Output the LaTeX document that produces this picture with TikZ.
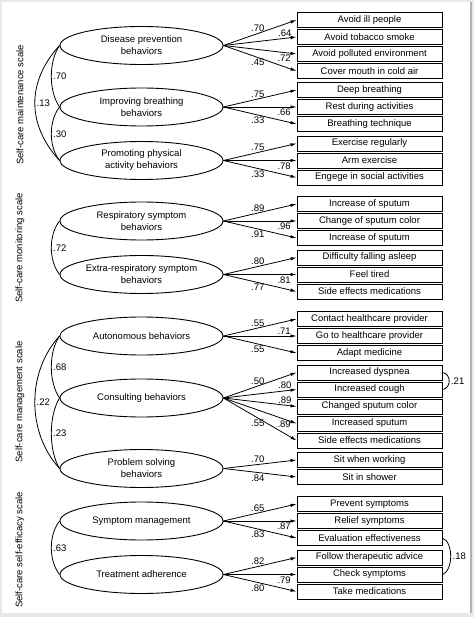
\documentclass[tikz,border=0pt]{standalone}
\usepackage{fontspec}
\setmainfont{Liberation Sans}
\usetikzlibrary{shapes.geometric,arrows.meta}

\tikzset{
    latent/.style={draw, ellipse, line width=0.9pt, minimum width=163pt, minimum height=38pt,
        inner sep=0pt, align=center, font=\fontsize{9.5}{12}\selectfont},
    item/.style={draw, rectangle, line width=0.9pt, minimum width=145pt, minimum height=15pt,
        inner sep=0pt, font=\fontsize{9.5}{10}\selectfont},
    load/.style={-{Latex[length=6pt,width=3.4pt]}, line width=0.8pt},
    coef/.style={inner sep=1.5pt, font=\fontsize{9.5}{10}\selectfont},
    corr/.style={line width=0.8pt},
    scalelab/.style={rotate=90, font=\fontsize{9.5}{10}\selectfont}
}

\begin{document}
\begin{tikzpicture}[x=1pt, y=-1pt]

    % Frame of the page
    \useasboundingbox (0,0) rectangle (474,617);
    \fill[gray!18] (0,0) rectangle (474,617);
    \fill[white] (2,2) rectangle (470,613);
    \fill[gray!60] (470,2) rectangle (472,613);

    % Scale titles on the left
    \node[scalelab] (s1) at (20,105) {Self-care maintenance scale};
    \node[scalelab] (s2) at (20,248) {Self-care monitoring scale};
    \node[scalelab] (s3) at (20,402) {Self-care management scale};
    \node[scalelab] (s4) at (20,550) {Self-care self-efficacy scale};

    % Latent factors
    \node[latent] (D) at (141.5, 45.5) {Disease prevention\\behaviors};
    \node[latent] (I) at (141.5, 107) {Improving breathing\\behaviors};
    \node[latent] (P) at (141.5, 160.5) {Promoting physical\\activity behaviors};
    \node[latent] (R) at (141.5, 221) {Respiratory symptom\\behaviors};
    \node[latent] (E) at (141.5, 274.5) {Extra-respiratory symptom\\behaviors};
    \node[latent] (A) at (141.5, 336) {Autonomous behaviors};
    \node[latent] (C) at (141.5, 398) {Consulting behaviors};
    \node[latent] (S) at (141.5, 468.5) {Problem solving\\behaviors};
    \node[latent] (M) at (141.5, 521) {Symptom management};
    \node[latent] (T) at (141.5, 574.5) {Treatment adherence};

    % Observed items
    \node[item] (b1) at (369.5, 20) {Avoid ill people};
    \node[item] (b2) at (369.5, 37) {Avoid tobacco smoke};
    \node[item] (b3) at (369.5, 54) {Avoid polluted environment};
    \node[item] (b4) at (369.5, 71) {Cover mouth in cold air};
    \node[item] (b5) at (369.5, 90) {Deep breathing};
    \node[item] (b6) at (369.5, 107) {Rest during activities};
    \node[item] (b7) at (369.5, 124) {Breathing technique};
    \node[item] (b8) at (369.5, 143.5) {Exercise regularly};
    \node[item] (b9) at (369.5, 160.5) {Arm exercise};
    \node[item] (b10) at (369.5, 177.5) {Engege in social activities};
    \node[item] (b11) at (369.5, 204) {Increase of sputum};
    \node[item] (b12) at (369.5, 221) {Change of sputum color};
    \node[item] (b13) at (369.5, 238) {Increase of sputum};
    \node[item] (b14) at (369.5, 257.5) {Difficulty falling asleep};
    \node[item] (b15) at (369.5, 274.5) {Feel tired};
    \node[item] (b16) at (369.5, 291.5) {Side effects medications};
    \node[item] (b17) at (369.5, 319) {Contact healthcare provider};
    \node[item] (b18) at (369.5, 336) {Go to healthcare provider};
    \node[item] (b19) at (369.5, 353) {Adapt medicine};
    \node[item] (b20) at (369.5, 372.5) {Increased dyspnea};
    \node[item] (b21) at (369.5, 389.5) {Increased cough};
    \node[item] (b22) at (369.5, 406.5) {Changed sputum color};
    \node[item] (b23) at (369.5, 423.5) {Increased sputum};
    \node[item] (b24) at (369.5, 440.5) {Side effects medications};
    \node[item] (b25) at (369.5, 460) {Sit when working};
    \node[item] (b26) at (369.5, 477) {Sit in shower};
    \node[item] (b27) at (369.5, 504) {Prevent symptoms};
    \node[item] (b28) at (369.5, 521) {Relief symptoms};
    \node[item] (b29) at (369.5, 538) {Evaluation effectiveness};
    \node[item] (b30) at (369.5, 557.5) {Follow therapeutic advice};
    \node[item] (b31) at (369.5, 574.5) {Check symptoms};
    \node[item] (b32) at (369.5, 591.5) {Take medications};

    % Loadings (maintenance)
    \draw[load] (D.east) -- (b1.west) node[coef, pos=.47, above] {.70};
    \draw[load] (D.east) -- (b2.west) node[coef, pos=.84, above] {.64};
    \draw[load] (D.east) -- (b3.west) node[coef, pos=.83, below] {.72};
    \draw[load] (D.east) -- (b4.west) node[coef, pos=.47, below] {.45};
    \draw[load] (I.east) -- (b5.west) node[coef, pos=.47, above] {.75};
    \draw[load] (I.east) -- (b6.west) node[coef, pos=.83, below] {.66};
    \draw[load] (I.east) -- (b7.west) node[coef, pos=.47, below] {.33};
    \draw[load] (P.east) -- (b8.west) node[coef, pos=.47, above] {.75};
    \draw[load] (P.east) -- (b9.west) node[coef, pos=.83, below] {.78};
    \draw[load] (P.east) -- (b10.west) node[coef, pos=.47, below] {.33};

    % Loadings (monitoring)
    \draw[load] (R.east) -- (b11.west) node[coef, pos=.47, above] {.89};
    \draw[load] (R.east) -- (b12.west) node[coef, pos=.83, below] {.96};
    \draw[load] (R.east) -- (b13.west) node[coef, pos=.47, below] {.91};
    \draw[load] (E.east) -- (b14.west) node[coef, pos=.47, above] {.80};
    \draw[load] (E.east) -- (b15.west) node[coef, pos=.83, below] {.81};
    \draw[load] (E.east) -- (b16.west) node[coef, pos=.47, below] {.77};

    % Loadings (management)
    \draw[load] (A.east) -- (b17.west) node[coef, pos=.47, above] {.55};
    \draw[load] (A.east) -- (b18.west) node[coef, pos=.83, above] {.71};
    \draw[load] (A.east) -- (b19.west) node[coef, pos=.47, below] {.55};
    \draw[load] (C.east) -- (b20.west) node[coef, pos=.47, above] {.50};
    \draw[load] (C.east) -- (b21.west) node[coef, pos=.84, above] {.80};
    \draw[load] (C.east) -- (b22.west) node[coef, pos=.84, above] {.89};
    \draw[load] (C.east) -- (b23.west) node[coef, pos=.83, below] {.89};
    \draw[load] (C.east) -- (b24.west) node[coef, pos=.47, below] {.55};
    \draw[load] (S.east) -- (b25.west) node[coef, pos=.47, above] {.70};
    \draw[load] (S.east) -- (b26.west) node[coef, pos=.47, below] {.84};

    % Loadings (self-efficacy)
    \draw[load] (M.east) -- (b27.west) node[coef, pos=.47, above] {.65};
    \draw[load] (M.east) -- (b28.west) node[coef, pos=.83, below] {.87};
    \draw[load] (M.east) -- (b29.west) node[coef, pos=.47, below] {.83};
    \draw[load] (T.east) -- (b30.west) node[coef, pos=.47, above] {.82};
    \draw[load] (T.east) -- (b31.west) node[coef, pos=.83, below] {.79};
    \draw[load] (T.east) -- (b32.west) node[coef, pos=.47, below] {.80};

    % Correlations between factors
    \draw[corr] (D.west) .. controls +(-11,16) and +(-11,-16) .. (I.west) node[coef, pos=.5, right] {.70};
    \draw[corr] (D.west) .. controls +(-33,36) and +(-33,-36) .. (P.west) node[coef, pos=.5, right] {.13};
    \draw[corr] (I.west) .. controls +(-11,14) and +(-11,-14) .. (P.west) node[coef, pos=.5, right] {.30};
    \draw[corr] (R.west) .. controls +(-11,14) and +(-11,-14) .. (E.west) node[coef, pos=.5, right] {.72};
    \draw[corr] (A.west) .. controls +(-11,16) and +(-11,-16) .. (C.west) node[coef, pos=.5, right] {.68};
    \draw[corr] (A.west) .. controls +(-33,36) and +(-33,-36) .. (S.west) node[coef, pos=.5, right] {.22};
    \draw[corr] (C.west) .. controls +(-11,18) and +(-11,-18) .. (S.west) node[coef, pos=.5, right] {.23};
    \draw[corr] (M.west) .. controls +(-11,14) and +(-11,-14) .. (T.west) node[coef, pos=.5, right] {.63};

    % Correlated errors
    \draw[corr] (b20.east) .. controls +(9,1) and +(9,-1) .. (b21.east) node[coef, pos=.5, right] {.21};
    \draw[corr] (b29.east) .. controls +(11,4) and +(11,-4) .. (b31.east) node[coef, pos=.5, right] {.18};

\end{tikzpicture}
\end{document}
